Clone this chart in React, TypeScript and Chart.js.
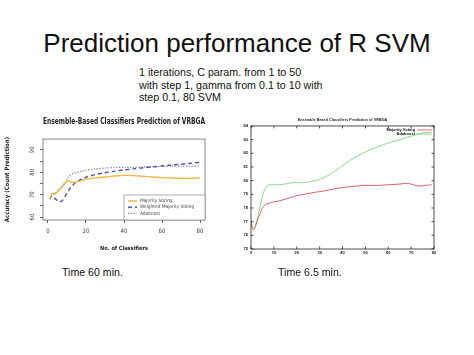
import React, { useEffect, useRef } from "react";
import { Chart, registerables } from "chart.js";
Chart.register(...registerables);

// ---- slide text ----
const SLIDE_TITLE = "Prediction performance of R SVM";
const SLIDE_NOTE = [
  "1 iterations, C param. from 1 to 50",
  "with step 1, gamma from 0.1 to 10 with",
  "step 0.1, 80 SVM",
];
const CAPTION_LEFT = "Time 60 min.";
const CAPTION_RIGHT = "Time 6.5 min.";

// ---- left chart (R) ----
const LEFT_TITLE = "Ensemble-Based Classifiers Prediction of VRBGA";
const LEFT_X_TITLE = "No. of Classifiers";
const LEFT_Y_TITLE = "Accuracy (Count Prediction)";
const LEFT_X_TICKS = [0, 20, 40, 60, 80];
const LEFT_Y_TICKS = [60, 65, 70, 75, 80, 85, 90];
const LEFT_Y_LABELED = [60, 70, 80, 90];

const mvX = [1, 2, 3, 4, 5, 6, 7, 8, 9, 10, 11, 12, 14, 16, 18, 20, 25, 30, 35, 40, 45, 50, 55, 60, 65, 70, 75, 80];
const mvY = [68.0, 70.5, 70.5, 70.4, 71.3, 72.2, 73.1, 74.0, 75.0, 76.0, 76.2, 75.6, 75.6, 75.9, 76.4, 76.9, 77.5, 77.9, 78.3, 78.6, 78.5, 78.2, 77.9, 77.6, 77.4, 77.3, 77.3, 77.5];

const wmvX = [1, 2, 3, 4, 5, 6, 7, 8, 9, 10, 12, 14, 16, 18, 20, 25, 30, 35, 40, 45, 50, 55, 60, 65, 70, 75, 80];
const wmvY = [68.0, 69.4, 69.0, 68.0, 67.3, 66.9, 67.0, 67.8, 69.2, 70.6, 73.2, 75.0, 76.2, 77.1, 77.8, 79.0, 79.8, 80.5, 81.0, 81.5, 82.0, 82.4, 82.8, 83.2, 83.6, 84.0, 84.4];

const adaX = [1, 2, 3, 4, 5, 6, 7, 8, 9, 10, 11, 12, 13, 15, 18, 20, 25, 30, 35, 40, 45, 50, 55, 60, 65, 70, 75, 80];
const adaY = [68.0, 69.3, 70.0, 70.8, 71.7, 72.6, 73.5, 74.5, 75.5, 76.8, 78.0, 78.8, 79.3, 79.9, 80.5, 80.9, 81.5, 81.9, 82.1, 82.2, 82.2, 82.3, 82.4, 82.6, 82.7, 82.7, 82.7, 82.7];

// ---- right chart (gnuplot) ----
const RIGHT_TITLE = "Ensemble Based Classifiers Prediction of VRBGA";
const RIGHT_X_TICKS = [0, 10, 20, 30, 40, 50, 60, 70, 80];
const RIGHT_Y_TICKS = [75, 76, 77, 78, 79, 80, 81, 82, 83, 84];
const rX = [0, 1, 2, 3, 4, 5, 6, 7, 8, 10, 12, 15, 18, 20, 25, 28, 30, 32, 35, 38, 40, 43, 46, 50, 55, 60, 65, 68, 70, 73, 76, 79];
const rMajority = [77.0, 76.4, 76.7, 77.2, 77.6, 78.0, 78.2, 78.3, 78.35, 78.45, 78.5, 78.65, 78.8, 78.9, 79.05, 79.15, 79.2, 79.25, 79.35, 79.45, 79.5, 79.55, 79.6, 79.65, 79.65, 79.7, 79.75, 79.8, 79.75, 79.6, 79.65, 79.7];
const rAdaboost = [77.0, 76.4, 76.7, 77.4, 78.1, 78.9, 79.35, 79.6, 79.7, 79.7, 79.7, 79.75, 79.85, 79.85, 79.9, 80.0, 80.1, 80.25, 80.5, 80.85, 81.1, 81.45, 81.75, 82.1, 82.45, 82.75, 83.0, 83.15, 83.25, 83.4, 83.5, 83.55];

const NARROW = '"Liberation Sans Narrow", "DejaVu Sans Condensed", "Liberation Sans", Arial, sans-serif';
const SANS = '"Liberation Sans", Arial, sans-serif';

const pts = (xs: number[], ys: number[]) => xs.map((x, i) => ({ x, y: ys[i] }));

const leftDecor = {
  id: "leftDecor",
  afterDraw(chart: any) {
    const { ctx, chartArea: a, scales } = chart;
    const y = scales.y;
    ctx.save();
    // box
    ctx.strokeStyle = "#666";
    ctx.lineWidth = 0.8;
    ctx.strokeRect(a.left, a.top, a.right - a.left, a.bottom - a.top);
    // rotated y tick labels
    ctx.fillStyle = "#444";
    ctx.font = `6px ${NARROW}`;
    ctx.textAlign = "center";
    ctx.textBaseline = "middle";
    y.ticks.forEach((t: any) => {
      if (!LEFT_Y_LABELED.includes(t.value)) return;
      const py = y.getPixelForValue(t.value);
      ctx.save();
      ctx.translate(a.left - 10.5, py);
      ctx.rotate(-Math.PI / 2);
      ctx.fillText(String(t.value), 0, 0);
      ctx.restore();
    });
    // legend (bottom right)
    const w = 81, h = 25;
    const lx = a.right - w, ly = a.bottom - h;
    ctx.fillStyle = "#fff";
    ctx.fillRect(lx, ly, w, h);
    ctx.strokeStyle = "#777";
    ctx.lineWidth = 0.6;
    ctx.strokeRect(lx, ly, w, h);
    ctx.font = `4.8px ${NARROW}`;
    ctx.textAlign = "left";
    chart.data.datasets.forEach((ds: any, i: number) => {
      const ry = ly + 6 + i * 6.2;
      ctx.strokeStyle = ds.borderColor;
      ctx.lineWidth = ds.borderWidth;
      ctx.setLineDash(ds.borderDash || []);
      ctx.beginPath();
      ctx.moveTo(lx + 4, ry);
      ctx.lineTo(lx + 13, ry);
      ctx.stroke();
      ctx.setLineDash([]);
      ctx.fillStyle = "#444";
      ctx.fillText(ds.label, lx + 16, ry);
    });
    ctx.restore();
  },
};

const rightDecor = {
  id: "rightDecor",
  afterDraw(chart: any) {
    const { ctx, chartArea: a, scales } = chart;
    const { x, y } = scales;
    ctx.save();
    ctx.strokeStyle = "#222";
    ctx.lineWidth = 0.8;
    ctx.strokeRect(a.left, a.top, a.right - a.left, a.bottom - a.top);
    ctx.beginPath();
    x.ticks.forEach((t: any) => {
      const px = x.getPixelForValue(t.value);
      ctx.moveTo(px, a.bottom); ctx.lineTo(px, a.bottom - 2.5);
      ctx.moveTo(px, a.top); ctx.lineTo(px, a.top + 2.5);
    });
    y.ticks.forEach((t: any) => {
      const py = y.getPixelForValue(t.value);
      ctx.moveTo(a.left, py); ctx.lineTo(a.left + 2.5, py);
      ctx.moveTo(a.right, py); ctx.lineTo(a.right - 2.5, py);
    });
    ctx.stroke();
    // key, top right
    ctx.font = `bold 4px ${SANS}`;
    ctx.textAlign = "right";
    ctx.textBaseline = "middle";
    chart.data.datasets.forEach((ds: any, i: number) => {
      const ry = a.top + 4 + i * 4;
      ctx.fillStyle = "#111";
      ctx.fillText(ds.label, a.right - 19, ry);
      ctx.strokeStyle = ds.borderColor;
      ctx.lineWidth = 0.9;
      ctx.beginPath();
      ctx.moveTo(a.right - 17, ry);
      ctx.lineTo(a.right - 2, ry);
      ctx.stroke();
    });
    ctx.restore();
  },
};

function LeftChart() {
  const ref = useRef<HTMLCanvasElement>(null);
  useEffect(() => {
    const chart = new Chart(ref.current!, {
      type: "line",
      data: {
        datasets: [
          { label: "Majority Voting", data: pts(mvX, mvY), borderColor: "#f0b848", borderWidth: 1.4, pointRadius: 0, tension: 0.25 },
          { label: "Weighted Majority Voting", data: pts(wmvX, wmvY), borderColor: "#5656b0", borderWidth: 1.5, borderDash: [4, 3], pointRadius: 0, tension: 0.25 },
          { label: "Adaboost", data: pts(adaX, adaY), borderColor: "#8a8ab0", borderWidth: 1.2, borderDash: [1.4, 1.4], pointRadius: 0, tension: 0.25 },
        ],
      },
      options: {
        animation: false,
        responsive: false,
        maintainAspectRatio: false,
        layout: { padding: { left: 0, right: 43, top: 0, bottom: 0 } },
        plugins: {
          legend: { display: false },
          tooltip: { enabled: false },
          title: {
            display: true,
            fullSize: false,
            text: LEFT_TITLE,
            color: "#222",
            font: { family: NARROW, size: 8.8, weight: "bold" },
            padding: { top: 4.6, bottom: 11.9 },
          },
        },
        scales: {
          x: {
            type: "linear",
            min: -2.6,
            max: 82.6,
            afterBuildTicks: (s: any) => { s.ticks = LEFT_X_TICKS.map((v) => ({ value: v })); },
            afterFit: (s: any) => { s.height = 37; },
            border: { display: false },
            grid: { drawOnChartArea: false, drawTicks: true, tickLength: 3, color: "#666" },
            ticks: { color: "#444", font: { family: NARROW, size: 6 }, padding: 5, maxRotation: 0, autoSkip: false },
            title: { display: true, text: LEFT_X_TITLE, color: "#222", font: { family: NARROW, size: 5.6, weight: "bold" }, padding: { top: 0, bottom: 5.5 } },
          },
          y: {
            type: "linear",
            min: 58.7,
            max: 94.8,
            afterBuildTicks: (s: any) => { s.ticks = LEFT_Y_TICKS.map((v) => ({ value: v })); },
            afterFit: (s: any) => { s.width = 43; },
            border: { display: false },
            grid: { drawOnChartArea: false, drawTicks: true, tickLength: 3, color: "#666" },
            ticks: { display: false },
            title: { display: true, text: LEFT_Y_TITLE, color: "#222", font: { family: NARROW, size: 6, weight: "bold" }, padding: { top: 3.4, bottom: 0 } },
          },
        },
      } as any,
      plugins: [leftDecor],
    });
    return () => chart.destroy();
  }, []);
  return <canvas ref={ref} width={248} height={145} style={{ position: "absolute", left: 0, top: 112, width: 248, height: 145 }} />;
}

function RightChart() {
  const ref = useRef<HTMLCanvasElement>(null);
  useEffect(() => {
    const chart = new Chart(ref.current!, {
      type: "line",
      data: {
        datasets: [
          { label: "Majority Voting", data: pts(rX, rMajority), borderColor: "#e0606c", borderWidth: 1, pointRadius: 0, tension: 0.3 },
          { label: "Adaboost", data: pts(rX, rAdaboost), borderColor: "#86d886", borderWidth: 1, pointRadius: 0, tension: 0.3 },
        ],
      },
      options: {
        animation: false,
        responsive: false,
        maintainAspectRatio: false,
        layout: { padding: { left: 0, right: 14, top: 0, bottom: 0 } },
        plugins: {
          legend: { display: false },
          tooltip: { enabled: false },
          title: {
            display: true,
            fullSize: false,
            text: RIGHT_TITLE,
            color: "#222",
            font: { family: SANS, size: 3.8 },
            padding: { top: 5.7, bottom: 3.7 },
          },
        },
        scales: {
          x: {
            type: "linear",
            min: 0,
            max: 80,
            afterBuildTicks: (s: any) => { s.ticks = RIGHT_X_TICKS.map((v) => ({ value: v })); },
            afterFit: (s: any) => { s.height = 13; },
            border: { display: false },
            grid: { display: false, drawTicks: false },
            ticks: { color: "#111", font: { family: SANS, size: 4, weight: "bold" }, padding: 1.6, maxRotation: 0, autoSkip: false },
          },
          y: {
            type: "linear",
            min: 75,
            max: 84,
            afterBuildTicks: (s: any) => { s.ticks = RIGHT_Y_TICKS.map((v) => ({ value: v })); },
            afterFit: (s: any) => { s.width = 15; },
            border: { display: false },
            grid: { display: false, drawTicks: false },
            ticks: { color: "#111", font: { family: SANS, size: 4, weight: "bold" }, padding: 3, autoSkip: false },
          },
        },
      } as any,
      plugins: [rightDecor],
    });
    return () => chart.destroy();
  }, []);
  return <canvas ref={ref} width={212} height={150} style={{ position: "absolute", left: 236, top: 112, width: 212, height: 150 }} />;
}

export default function App() {
  return (
    <div style={{ position: "absolute", left: 0, top: 0, width: 474, height: 355, background: "#fff", overflow: "hidden", fontFamily: SANS, color: "#111" }}>
      <div style={{ position: "absolute", left: 0, top: 30, width: 474, textAlign: "center", fontSize: 26, lineHeight: "26px", whiteSpace: "nowrap" }}>
        {SLIDE_TITLE}
      </div>
      <div style={{ position: "absolute", left: 139, top: 66, fontSize: 10.7, lineHeight: "12.5px", whiteSpace: "nowrap" }}>
        {SLIDE_NOTE.map((l, i) => (
          <div key={i}>{l}</div>
        ))}
      </div>
      <LeftChart />
      <RightChart />
      <div style={{ position: "absolute", left: 62, top: 266, fontSize: 10.6, lineHeight: "12px", whiteSpace: "nowrap" }}>{CAPTION_LEFT}</div>
      <div style={{ position: "absolute", left: 278, top: 266, fontSize: 10.6, lineHeight: "12px", whiteSpace: "nowrap" }}>{CAPTION_RIGHT}</div>
    </div>
  );
}
